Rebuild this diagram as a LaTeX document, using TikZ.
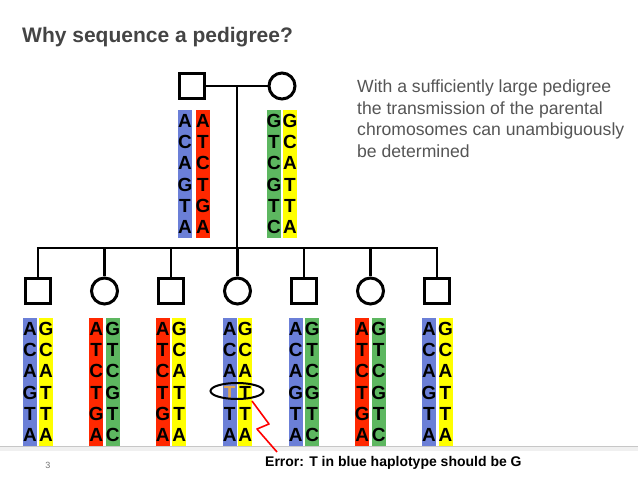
\documentclass[tikz,border=0pt]{standalone}
\usepackage{fontspec}
\setmainfont{Liberation Sans}
\usetikzlibrary{shapes.geometric}
\definecolor{hblue}{HTML}{6B7FD7}
\definecolor{hred}{HTML}{FF2800}
\definecolor{hgreen}{HTML}{5DB760}
\definecolor{hyellow}{HTML}{FFFF00}
\definecolor{titlegray}{HTML}{444444}
\definecolor{textgray}{HTML}{555555}
\definecolor{errorange}{HTML}{E0A850}
\tikzset{
  male/.style={draw, line width=3pt, rectangle, minimum size=25pt, inner sep=0pt},
  female/.style={draw, line width=3pt, circle, minimum size=26pt, inner sep=0pt},
  pedline/.style={line width=2.4pt},
  base/.style={font=\fontsize{19}{19}\bfseries\selectfont, inner sep=0pt, text=black},
}
\newcommand\hapcol[5]{% name, xcenter, ytop, color, letters
  \fill[#4] (#2-7,#3) rectangle (#2+7,#3+128);
  \foreach \l [count=\i] in {#5} {\node[base] (#1-\i) at (#2, #3+21.33*\i-10.67) {\l};}
}
\begin{document}
\begin{tikzpicture}[x=1pt,y=-1pt]
\useasboundingbox (0,0) rectangle (638,478);
% title
\node[anchor=west, inner sep=0pt, text=titlegray, font=\fontsize{21}{24}\bfseries\selectfont] (title) at (22,37) {Why sequence a pedigree?};
% explanatory text
\node[anchor=north west, inner sep=0pt, text=textgray, align=left, font=\fontsize{17.6}{21.5}\selectfont] (expl) at (357,80)
  {With a sufficiently large pedigree\\the transmission of the parental\\chromosomes can unambiguously\\be determined};
% parents
\node[male] (f) at (192,86) {};
\node[female] (m) at (282,86) {};
\draw[pedline] (f) -- (m);
\coordinate (mid) at (237,86);
\coordinate (sib) at (237,248);
\draw[pedline] (mid) -- (sib);
% children
\foreach \n/\x/\s in {1/38/male,2/104.5/female,3/171/male,4/237.5/female,5/304/male,6/370.5/female,7/437/male} {
  \node[\s] (c\n) at (\x,291) {};
  \coordinate (t\n) at (\x,248);
  \draw[pedline] (t\n) -- (c\n);
}
\draw[pedline] ([xshift=-1.2pt]t1) -- ([xshift=1.2pt]t7);
% parent haplotypes
\hapcol{pa}{185}{110}{hblue}{A,C,A,G,T,A}
\hapcol{pb}{203}{110}{hred}{A,T,C,T,G,A}
\hapcol{pc}{274}{110}{hgreen}{G,T,C,G,T,C}
\hapcol{pd}{290}{110}{hyellow}{G,C,A,T,T,A}
% children haplotypes
\hapcol{c1a}{30}{318}{hblue}{A,C,A,G,T,A}
\hapcol{c1b}{46}{318}{hyellow}{G,C,A,T,T,A}
\hapcol{c2a}{96.2}{318}{hred}{A,T,C,T,G,A}
\hapcol{c2b}{112.8}{318}{hgreen}{G,T,C,G,T,C}
\hapcol{c3a}{162.7}{318}{hred}{A,T,C,T,G,A}
\hapcol{c3b}{179.3}{318}{hyellow}{G,C,A,T,T,A}
\hapcol{c4a}{229.7}{318}{hblue}{A,C,A,{\textcolor{errorange}{T}},T,A}
\hapcol{c4b}{245.3}{318}{hyellow}{G,C,A,T,T,A}
\hapcol{c5a}{295.7}{318}{hblue}{A,C,A,G,T,A}
\hapcol{c5b}{312.3}{318}{hgreen}{G,T,C,G,T,C}
\hapcol{c6a}{362.2}{318}{hred}{A,T,C,T,G,A}
\hapcol{c6b}{378.8}{318}{hgreen}{G,T,C,G,T,C}
\hapcol{c7a}{429}{318}{hblue}{A,C,A,G,T,A}
\hapcol{c7b}{445.5}{318}{hyellow}{G,C,A,T,T,A}
% footer rule
\fill[black!6] (0,447) rectangle (638,451);
\draw[black!22, line width=1pt] (0,447) -- (638,447);
% error marker
\node[ellipse, draw, line width=2pt, minimum width=53pt, minimum height=16pt, inner sep=0pt] (err) at (237,391) {};
\node[anchor=west, inner sep=0pt, font=\fontsize{14}{16}\bfseries\selectfont] (errtext) at (265,463) {Error: T in blue haplotype should be G};
\coordinate (z1) at (252,401);
\coordinate (z2) at (269,424);
\coordinate (z3) at (257,429);
\coordinate (z4) at (277,452);
\draw[red, line width=1.6pt, line join=round] (z1) -- (z2) -- (z3) -- (z4);
% page number
\node[text=black!55, inner sep=0pt, font=\fontsize{9}{10}\selectfont] (pg) at (48,465) {3};
\end{tikzpicture}
\end{document}
